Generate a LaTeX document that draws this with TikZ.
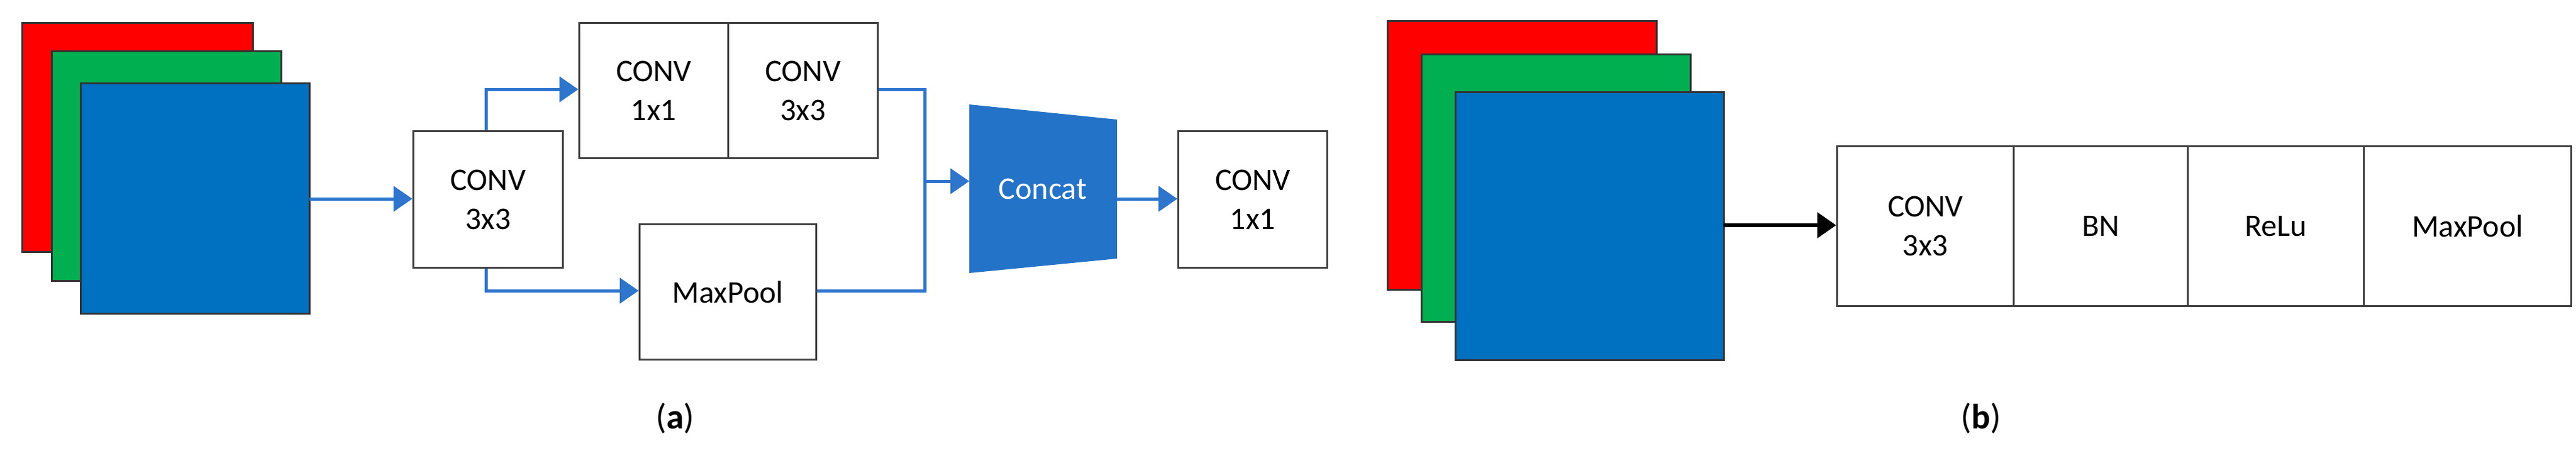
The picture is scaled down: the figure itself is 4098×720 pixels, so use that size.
\documentclass[tikz,border=0pt]{standalone}
\usepackage{fontspec}
\setmainfont{Carlito}
\usetikzlibrary{arrows.meta}
\definecolor{cred}{RGB}{255,0,0}
\definecolor{cgreen}{RGB}{0,176,80}
\definecolor{cblue}{RGB}{0,112,192}
\definecolor{lblue}{RGB}{45,117,205}
\definecolor{ccat}{RGB}{35,115,200}
\begin{document}
\begin{tikzpicture}[x=1pt,y=-1pt,
  lay/.style={draw=black!80,line width=3pt},
  box/.style={draw=black!75,line width=3pt,fill=white},
  txt/.style={font=\fontsize{50}{62}\selectfont,align=center},
  barrow/.style={draw=lblue,line width=5pt,-{Triangle[length=30pt,width=40pt]}},
  bline/.style={draw=lblue,line width=5pt},
  karrow/.style={draw=black,line width=6pt,-{Triangle[length=30pt,width=40pt]}},
  sublabel/.style={font=\fontsize{56}{66}\selectfont}]
\useasboundingbox (0,0) rectangle (4098,720);
% (a)
\filldraw[lay,fill=cred] (35,36) rectangle (402,400);
\filldraw[lay,fill=cgreen] (82,81) rectangle (447,446);
\filldraw[lay,fill=cblue] (128,132) rectangle (492,498);
\coordinate (ina) at (492,316);
\node[box,txt,minimum width=238pt,minimum height=217pt,anchor=north west] (c3) at (656,207) {CONV\\3x3};
\node[box,txt,minimum width=237pt,minimum height=215pt,anchor=north west] (c11) at (920,35) {CONV\\1x1};
\node[box,txt,minimum width=238pt,minimum height=215pt,anchor=north west] (c33) at (1157,35) {CONV\\3x3};
\node[box,txt,minimum width=281pt,minimum height=215pt,anchor=north west] (mp) at (1016,355) {MaxPool};
\node[box,txt,minimum width=237pt,minimum height=217pt,anchor=north west] (c1) at (1873,207) {CONV\\1x1};
\fill[ccat] (1542,166) -- (1777,190) -- (1777,411) -- (1542,434) -- cycle;
\node[txt,text=white] (cat) at (1659,300) {Concat};
\coordinate (catin) at (1542,288);
\coordinate (catout) at (1777,316);
\draw[barrow] (ina) -- (c3.west |- ina);
\draw[barrow] (c3.north -| 773,0) |- (c11.west |- 0,142);
\draw[barrow] (c3.south -| 773,0) |- (mp.west |- 0,462);
\draw[bline] (c33.east |- 0,142) -| (1471,462) -- (mp.east |- 0,462);
\draw[barrow] (1471,288) -- (catin);
\draw[barrow] (catout) -- (c1.west |- catout);
\node[sublabel] (la) at (1074,665) {(\textbf{a})};
% (b)
\filldraw[lay,fill=cred] (2207,33) rectangle (2635,460);
\filldraw[lay,fill=cgreen] (2261,86) rectangle (2689,511);
\filldraw[lay,fill=cblue] (2315,146) rectangle (2742,572);
\coordinate (inb) at (2742,358);
\node[box,txt,minimum width=281pt,minimum height=254pt,anchor=north west] (b1) at (2921,231) {CONV\\3x3};
\node[box,txt,minimum width=277pt,minimum height=254pt,anchor=north west] (b2) at (3202,231) {BN};
\node[box,txt,minimum width=280pt,minimum height=254pt,anchor=north west] (b3) at (3479,231) {ReLu};
\node[box,txt,minimum width=330pt,minimum height=254pt,anchor=north west] (b4) at (3759,231) {MaxPool};
\draw[karrow] (inb) -- (b1.west |- inb);
\node[sublabel] (lb) at (3151,665) {(\textbf{b})};
\end{tikzpicture}
\end{document}
